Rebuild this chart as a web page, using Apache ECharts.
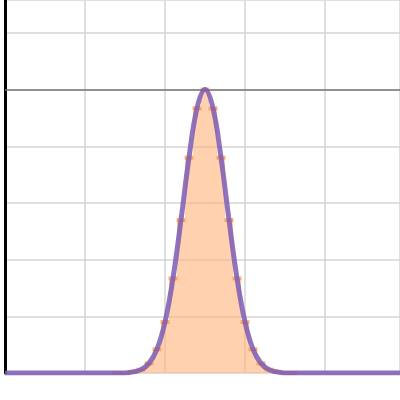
<!DOCTYPE html><html><head><meta charset="utf-8"><script src="https://cdn.jsdelivr.net/npm/echarts@6/dist/echarts.min.js"></script></head><body style="margin:0"><div id="c" style="width:400px;height:400px"></div><script>
var binX=[1.4,1.5,1.6,1.7,1.8,1.9,2.0,2.1,2.2,2.3,2.4,2.5,2.6,2.7,2.8,2.9,3.0,3.1,3.2,3.3,3.4,3.5,3.6];
var binY=[0,0,0.02,0.06,0.17,0.42,0.9,1.67,2.7,3.8,4.67,5.0,4.67,3.8,2.7,1.67,0.9,0.42,0.17,0.06,0.02,0,0];
var curveX=[0,0.5,1.0,1.3,1.5,1.6,1.7,1.8,1.9,2.0,2.1,2.2,2.3,2.4,2.5,2.6,2.7,2.8,2.9,3.0,3.1,3.2,3.3,3.4,3.5,3.7,4.0,4.5,5.0];
var curveY=[0,0,0,0,0,0.02,0.06,0.17,0.42,0.9,1.67,2.7,3.8,4.67,5.0,4.67,3.8,2.7,1.67,0.9,0.42,0.17,0.06,0.02,0,0,0,0,0];
var bars=binX.map(function(x,i){return [x,binY[i]];});
var line=curveX.map(function(x,i){return [x,curveY[i]];});
var ch=echarts.init(document.getElementById('c'));
ch.setOption({animation:false,
grid:{left:5,right:0,top:0,bottom:27},
xAxis:{type:'value',min:0,max:4.9375,interval:1,axisLabel:{show:false},axisTick:{show:false},axisLine:{show:false},splitLine:{lineStyle:{color:'#d4d4d4',width:1.5}}},
yAxis:{type:'value',min:0,max:6.58,interval:1,axisLabel:{show:false},axisTick:{show:false},axisLine:{show:true,onZero:false,lineStyle:{color:'#000',width:3}},splitLine:{lineStyle:{color:'#d4d4d4',width:1.5}}},
series:[
{type:'bar',data:bars,barWidth:8,itemStyle:{color:'rgba(255,178,120,0.6)'},
 markLine:{silent:true,symbol:'none',label:{show:false},lineStyle:{color:'#777',type:'solid',width:1.5},data:[{yAxis:5}]}},
{type:'scatter',data:bars,symbol:'rect',symbolSize:[9,4],itemStyle:{color:'rgba(255,130,30,0.75)'}},
{type:'line',data:line,smooth:0.4,showSymbol:false,lineStyle:{color:'rgba(125,90,180,0.85)',width:5},z:5}
]});
</script></body></html>
